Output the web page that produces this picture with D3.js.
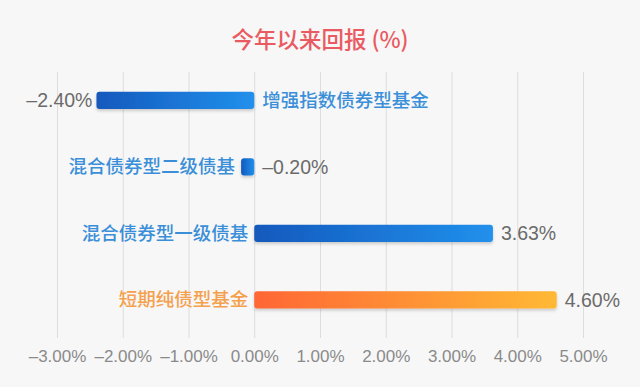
<!DOCTYPE html>
<html>
<head>
<meta charset="utf-8">
<script src="https://cdn.jsdelivr.net/npm/d3@7"></script>
<style>
  html, body { margin: 0; padding: 0; background: #f7f7f7; }
  svg { display: block; font-family: "Noto Sans CJK SC", "Noto Sans", sans-serif; }
</style>
</head>
<body>
<div id="chart"></div>
<script>
const categories = ['增强指数债券型基金', '混合债券型二级债基', '混合债券型一级债基', '短期纯债型基金'];
const values = [-2.40, -0.20, 3.63, 4.60];
const tickValues = [-3, -2, -1, 0, 1, 2, 3, 4, 5];
const title = '今年以来回报 (%)';

const width = 640;
const height = 387;
const margin = { top: 72, right: 57, bottom: 49, left: 57 };
const innerW = width - margin.left - margin.right;
const innerH = height - margin.top - margin.bottom;

const svg = d3.select('#chart').append('svg')
  .attr('width', width)
  .attr('height', height);

const defs = svg.append('defs');

const blue = defs.append('linearGradient').attr('id', 'g-blue')
  .attr('x1', '0%').attr('x2', '100%').attr('y1', '0%').attr('y2', '0%');
blue.append('stop').attr('offset', '0%').attr('stop-color', '#1459bd');
blue.append('stop').attr('offset', '100%').attr('stop-color', '#2190ec');

const orange = defs.append('linearGradient').attr('id', 'g-orange')
  .attr('x1', '0%').attr('x2', '100%').attr('y1', '0%').attr('y2', '0%');
orange.append('stop').attr('offset', '0%').attr('stop-color', '#ff6636');
orange.append('stop').attr('offset', '100%').attr('stop-color', '#ffb935');

const shadow = defs.append('filter').attr('id', 'shadow')
  .attr('x', '-10%').attr('y', '-40%').attr('width', '120%').attr('height', '190%');
shadow.append('feDropShadow')
  .attr('dx', 0).attr('dy', 2).attr('stdDeviation', 1.5)
  .attr('flood-color', '#000').attr('flood-opacity', 0.18);

svg.append('text')
  .attr('x', width / 2)
  .attr('y', 48)
  .attr('text-anchor', 'middle')
  .attr('font-size', 22.5)
  .attr('font-weight', 500)
  .attr('fill', '#ea5a61')
  .text(title);

const g = svg.append('g').attr('transform', `translate(${margin.left},${margin.top})`);

const x = d3.scaleLinear().domain([-3, 5]).range([0, innerW]);
const y = d3.scaleBand().domain(categories).range([0, innerH])
  .paddingInner(0.74).paddingOuter(0.37).align(0.4);

const xAxis = g.append('g')
  .attr('transform', `translate(0,${innerH})`)
  .call(d3.axisBottom(x).tickValues(tickValues).tickSize(-innerH).tickPadding(12)
    .tickFormat(d => (d < 0 ? '\u2013' : '') + Math.abs(d).toFixed(2) + '%'));
xAxis.select('.domain').remove();
xAxis.selectAll('.tick line').attr('stroke', '#dddddd').attr('stroke-width', 1);
xAxis.selectAll('.tick text')
  .attr('fill', '#8a8a8a')
  .attr('font-size', 17)
  .attr('font-family', '"Liberation Sans", Arial, sans-serif');

const data = categories.map((c, i) => ({ cat: c, value: values[i], last: i === categories.length - 1 }));
const barH = y.bandwidth();

g.selectAll('.bar').data(data).enter().append('rect')
  .attr('class', 'bar')
  .attr('x', d => x(Math.min(0, d.value)))
  .attr('y', d => y(d.cat))
  .attr('width', d => Math.abs(x(d.value) - x(0)))
  .attr('height', barH)
  .attr('rx', 3)
  .attr('fill', d => d.last ? 'url(#g-orange)' : 'url(#g-blue)')
  .attr('filter', 'url(#shadow)');

const fmt = v => (v < 0 ? '\u2013' : '') + Math.abs(v).toFixed(2) + '%';

// short negative bars swap their labels so the category stays readable
data.forEach(d => {
  const cy = y(d.cat) + y.bandwidth() / 2;
  const small = d.value < 0 && Math.abs(d.value) < 1;
  let catX, catAnchor, valX, valAnchor;
  if (d.value >= 0) {
    catX = x(0) - 6; catAnchor = 'end';
    valX = x(d.value) + 8; valAnchor = 'start';
  } else if (small) {
    catX = x(d.value) - 6; catAnchor = 'end';
    valX = x(0) + 8; valAnchor = 'start';
  } else {
    catX = x(0) + 8; catAnchor = 'start';
    valX = x(d.value) - 4; valAnchor = 'end';
  }
  g.append('text')
    .attr('x', catX).attr('y', cy)
    .attr('dy', '0.35em')
    .attr('text-anchor', catAnchor)
    .attr('font-size', 18.5)
    .attr('font-weight', 500)
    .attr('fill', d.last ? '#f4a04c' : '#3b8fd8')
    .text(d.cat);
  g.append('text')
    .attr('x', valX).attr('y', cy)
    .attr('dy', '0.35em')
    .attr('text-anchor', valAnchor)
    .attr('font-size', 19.5)
    .attr('font-family', '"Liberation Sans", Arial, sans-serif')
    .attr('fill', '#6b6b6b')
    .text(fmt(d.value));
});
</script>
</body>
</html>
